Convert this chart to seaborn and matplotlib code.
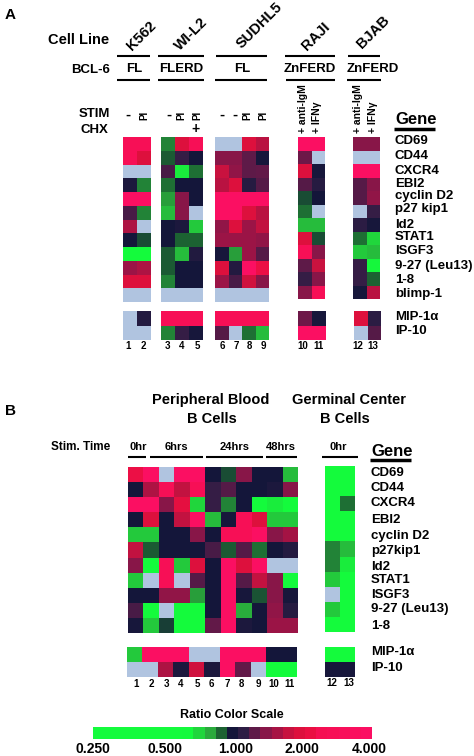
import matplotlib
matplotlib.use("Agg")
import matplotlib.pyplot as plt
from matplotlib.colors import LinearSegmentedColormap
import seaborn as sns
import numpy as np
import pandas as pd

plt.rcParams['font.family'] = ['Liberation Sans', 'DejaVu Sans']
plt.rcParams['font.weight'] = 'bold'

W, H = 474, 756
N = np.nan  # not measured, drawn grey-blue

# log2 ratios, panel A
k562 = [[1.5, 1.5], [1.5, 1.0], [N, N], [0.05, -0.25], [2, 2], [0.25, -0.25],
        [0.7, N], [0, -0.12], [-2, -2], [0.6, 0.7], [1, 1], [N, N]]
k562_low = [[N, 0.1], [N, N]]
wil2 = [[-0.25, 1, 1.5], [-0.15, 0.2, 0], [0.25, -0.6, -0.2], [-0.2, 0, 0],
        [-0.3, 0.5, 0], [-0.4, 0.5, N], [0, 0.05, -0.45], [0, -0.17, -0.17],
        [-0.15, -0.4, 0.08], [-0.15, 0, 0], [-0.25, 0, 0], [N, N, N]]
wil2_low = [[1.5, 1.5, 1.5], [-0.25, 0.2, 0.03]]
sudhl5 = [[N, N, 1.0, 0.75], [0.5, 0.5, 0.33, 0.03], [0.85, 0.55, 0.33, 0.35],
          [0.75, 1, 0.12, 0.3], [2, 2, 2, 2], [2, 2, 1, 0.75], [0.55, 1, 0.6, 0.8],
          [0.6, 0.6, 0.6, 0.55], [0.03, -0.3, 0.6, 0.3], [1, 0.1, 2, 1.2],
          [0.6, 0.25, 0.9, 0.5], [N, N, N, N]]
sudhl5_low = [[1.5, 1.5, 1.5, 1.5], [0.3, N, -0.2, -0.4]]
raji = [[2, 2], [0.4, N], [1, 0.02], [0.3, 0.12], [-0.12, 0], [-0.2, N], [-0.4, -0.4],
        [1, -0.12], [1.5, 0.5], [0.33, 0.85], [0.2, 0.5], [0.5, 1.5]]
raji_low = [[0.4, 0.02], [2, 2]]
bjab = [[0.5, 0.5], [N, N], [2, 2], [0.3, 0.5], [0.3, 0.55], [N, 0.2], [0.15, 0.02],
        [-0.2, -0.5], [-0.45, -0.4], [0.2, -0.65], [0.2, -0.17], [0.03, 0.75]]
bjab_low = [[1, 0.15], [N, 0.3]]

# panel B
blood = [[1.2, 2, N, 2, 2, 0, -0.12, 0.5, 0, 0, -0.4],
         [0, 0.7, 1.5, 0.8, 1.5, 0.2, 0.3, 0, 0, 0.05, 0.5],
         [2, 2, 0.5, 1.1, -0.5, 0.2, -0.25, 0, -0.8, -0.6, -0.7],
         [0, 1, 0, 0.8, 2, -0.4, 0.03, 1.5, 1, -0.45, -0.45],
         [-0.45, -0.45, 0, 0, 0.5, 0, 1.5, 1.5, 2, 0.5, 0.65],
         [0.8, -0.15, 0, 0, 0, 0.25, -0.15, 0.3, -0.2, 0, 0.1],
         [0.5, -0.8, 1.5, -0.45, 1, 0, 2, 1, 2, N, N],
         [-0.45, N, 1.5, N, 0.3, 0, 2, 0.3, 0.8, 0.5, -0.8],
         [0, 0, 0.55, 0.55, -0.3, 0, 2, 0.02, -0.14, 0.5, 0.03],
         [0.25, -0.8, N, -0.8, -0.8, 0, 2, -0.35, 0, 0.55, 0.12],
         [0.03, -0.45, -0.08, -0.8, -0.8, 0.35, 2, 0.05, 0, 0.6, 0.6]]
blood_low = [[-0.45, 2, 2, 2, N, N, 2, 2, 2, 0, 0],
             [N, N, 0.7, 0.05, 0.9, 0.05, 2, 0.35, N, -0.7, -0.7]]
center = [[-0.8, -0.8], [-0.8, -0.8], [-0.8, -0.2], [-0.8, -0.8], [-0.8, -0.8],
          [-0.25, -0.4], [-0.25, -0.6], [-0.45, -0.7], [N, -0.7], [-0.45, -0.7], [-0.8, -0.8]]
center_low = [[-0.8, -0.8], [0.02, 0.02]]

scale_levels = [-2, -1.83, -1.67, -1.5, -1.33, -1.17, -1, -0.83, -0.67, -0.5, -0.33, -0.17,
                0, 0.17, 0.33, 0.5, 0.67, 0.83, 1, 1.17, 1.33, 1.5, 1.67, 1.83, 2]
scale_ticks = ['0.250', '0.500', '1.000', '2.000', '4.000']

genes_a = ['CD69', 'CD44', 'CXCR4', 'EBI2', 'cyclin D2', 'p27 kip1', 'Id2', 'STAT1',
           'ISGF3', '9-27 (Leu13)', '1-8', 'blimp-1', 'MIP-1α', 'IP-10']
genes_b = ['CD69', 'CD44', 'CXCR4', 'EBI2', 'cyclin D2', 'p27kip1', 'Id2', 'STAT1',
           'ISGF3', '9-27 (Leu13)', '1-8', 'MIP-1α', 'IP-10']

# colour ramp follows the scale bar: saturated well before the ends
vmax = 2.0
anchors = [(-2, '#14fb3c'), (-0.67, '#14fb3c'), (-0.5, '#20d83c'), (-0.33, '#2aa83c'),
           (-0.17, '#1c6432'), (0, '#13163a'), (0.17, '#2e1d44'), (0.33, '#5c1a48'),
           (0.5, '#861648'), (0.67, '#a81344'), (0.83, '#c6123f'), (1, '#dc103d'),
           (1.17, '#ea0f42'), (1.33, '#f50f52'), (2, '#fb0f62')]
cmap = LinearSegmentedColormap.from_list('ratio', [((v + vmax) / (2 * vmax), c) for v, c in anchors], N=256)
cmap.set_bad('#b0c4e0')

fig = plt.figure(figsize=(W / 100, H / 100), dpi=100)
page = fig.add_axes([0, 0, 1, 1])
page.set_xlim(0, W)
page.set_ylim(H, 0)
page.axis('off')


def cells(values, x0, x1, y0, y1):
    ax = fig.add_axes([x0 / W, 1 - y1 / H, (x1 - x0) / W, (y1 - y0) / H])
    sns.heatmap(pd.DataFrame(values), ax=ax, cmap=cmap, vmin=-vmax, vmax=vmax, cbar=False,
                xticklabels=False, yticklabels=False)
    ax.set_xlabel('')
    ax.set_ylabel('')
    return ax


def label(x, y, s, size=9.5, ha='left', rot=0, **kw):
    page.text(x, y, s, fontsize=size, ha=ha, va='center', rotation=rot,
              rotation_mode='anchor' if rot == 90 else 'default', **kw)


def rule(x0, x1, y, lw=1.5):
    page.plot([x0, x1], [y, y], color='black', lw=lw, solid_capstyle='butt')


# panel A heatmaps
cells(k562, 123, 151, 137, 302)
cells(wil2, 161, 203, 137, 302)
cells(sudhl5, 215, 269, 137, 302)
cells(raji, 298, 325, 137, 299)
cells(bjab, 353, 380, 137, 299)
cells(k562_low, 123, 151, 311, 340)
cells(wil2_low, 161, 203, 311, 340)
cells(sudhl5_low, 215, 269, 311, 340)
cells(raji_low, 298, 326, 311, 340)
cells(bjab_low, 354, 381, 311, 340)

# panel A headers
label(5, 15, 'A', 11)
label(109, 40, 'Cell Line', 10.5, ha='right')
for x, y, s in [(142, 36, 'K562'), (191, 34, 'WI-L2'), (259, 25, 'SUDHL5'), (316, 36, 'RAJI'), (373, 32, 'BJAB')]:
    label(x, y, s, 10.5, ha='center', rot=45)
label(110, 70, 'BCL-6', 9.5, ha='right')
for x, s in [(134, 'FL'), (181, 'FLERD'), (242, 'FL'), (310, 'ZnFERD'), (373, 'ZnFERD')]:
    label(x, 69.5, s, 9.5, ha='center')
for x0, x1 in [(117, 150), (158, 204), (216, 267), (285, 335), (348, 380)]:
    rule(x0, x1, 56)
for x0, x1 in [(117, 150), (158, 204), (215, 267), (286, 335), (347, 381)]:
    rule(x0, x1, 80)
label(110, 114, 'STIM', 9.5, ha='right')
label(108, 130, 'CHX', 9.5, ha='right')
for x in [128, 169, 222, 235]:
    label(x, 115, '-', 11, ha='center')
for x in [144, 181, 197, 247, 263]:
    label(x, 120, 'PI', 7, rot=90)
label(196, 129, '+', 10, ha='center')
for x, s in [(303, '+ anti-IgM'), (317, '+ IFNγ'), (358, '+ anti-IgM'), (373, '+ IFNγ')]:
    label(x, 133, s, 7.5, rot=90)
label(395, 120, 'Gene', 12)
rule(394, 435, 129, 2.5)
for y, s in zip([141, 156, 171, 184, 196, 209, 225, 237, 251, 266, 280, 294, 317, 331], genes_a):
    label(395, y, s, 9.5)
for x, s in zip([128, 143, 167, 182, 197, 222, 236, 249, 263, 303, 319, 358, 373], range(1, 14)):
    label(x, 346, str(s), 7, ha='center')

# panel B heatmaps
cells(blood, 128, 298, 467, 633)
cells(blood_low, 127, 297, 647, 677)
cells(center, 325, 355, 466, 632)
cells(center_low, 325, 355, 647, 677)

# panel B headers
label(5, 411, 'B', 11)
label(211, 400, 'Peripheral Blood', 10.5, ha='center')
label(212, 419, 'B Cells', 10.5, ha='center')
label(349, 400, 'Germinal Center', 10.5, ha='center')
label(345, 419, 'B Cells', 10.5, ha='center')
label(51, 447, 'Stim. Time', 8.5)
for x, s in [(138, '0hr'), (176, '6hrs'), (235, '24hrs'), (281, '48hrs'), (338, '0hr')]:
    label(x, 447, s, 8, ha='center')
for x0, x1 in [(128, 146), (150, 203), (206, 263), (266, 297), (322, 358)]:
    rule(x0, x1, 457)
label(371, 451, 'Gene', 12)
rule(370, 411, 460, 2.5)
for y, s in zip([473, 488, 503, 520, 536, 551, 567, 580, 595, 609, 626, 652, 668], genes_b):
    label(371, y, s, 9.5)
for x, s in zip([136, 151, 166, 181, 197, 211, 227, 241, 258, 274, 290], range(1, 12)):
    label(x, 684, str(s), 7, ha='center')
label(332, 683, '12', 7, ha='center')
label(349, 683, '13', 7, ha='center')

# scale bar
cells([scale_levels], 93, 372, 727, 739)
label(232, 715, 'Ratio Color Scale', 9, ha='center')
for x, s in zip([93, 165, 236, 302, 369], scale_ticks):
    label(x, 749, s, 10, ha='center')

fig.savefig('out.png', dpi=100)
